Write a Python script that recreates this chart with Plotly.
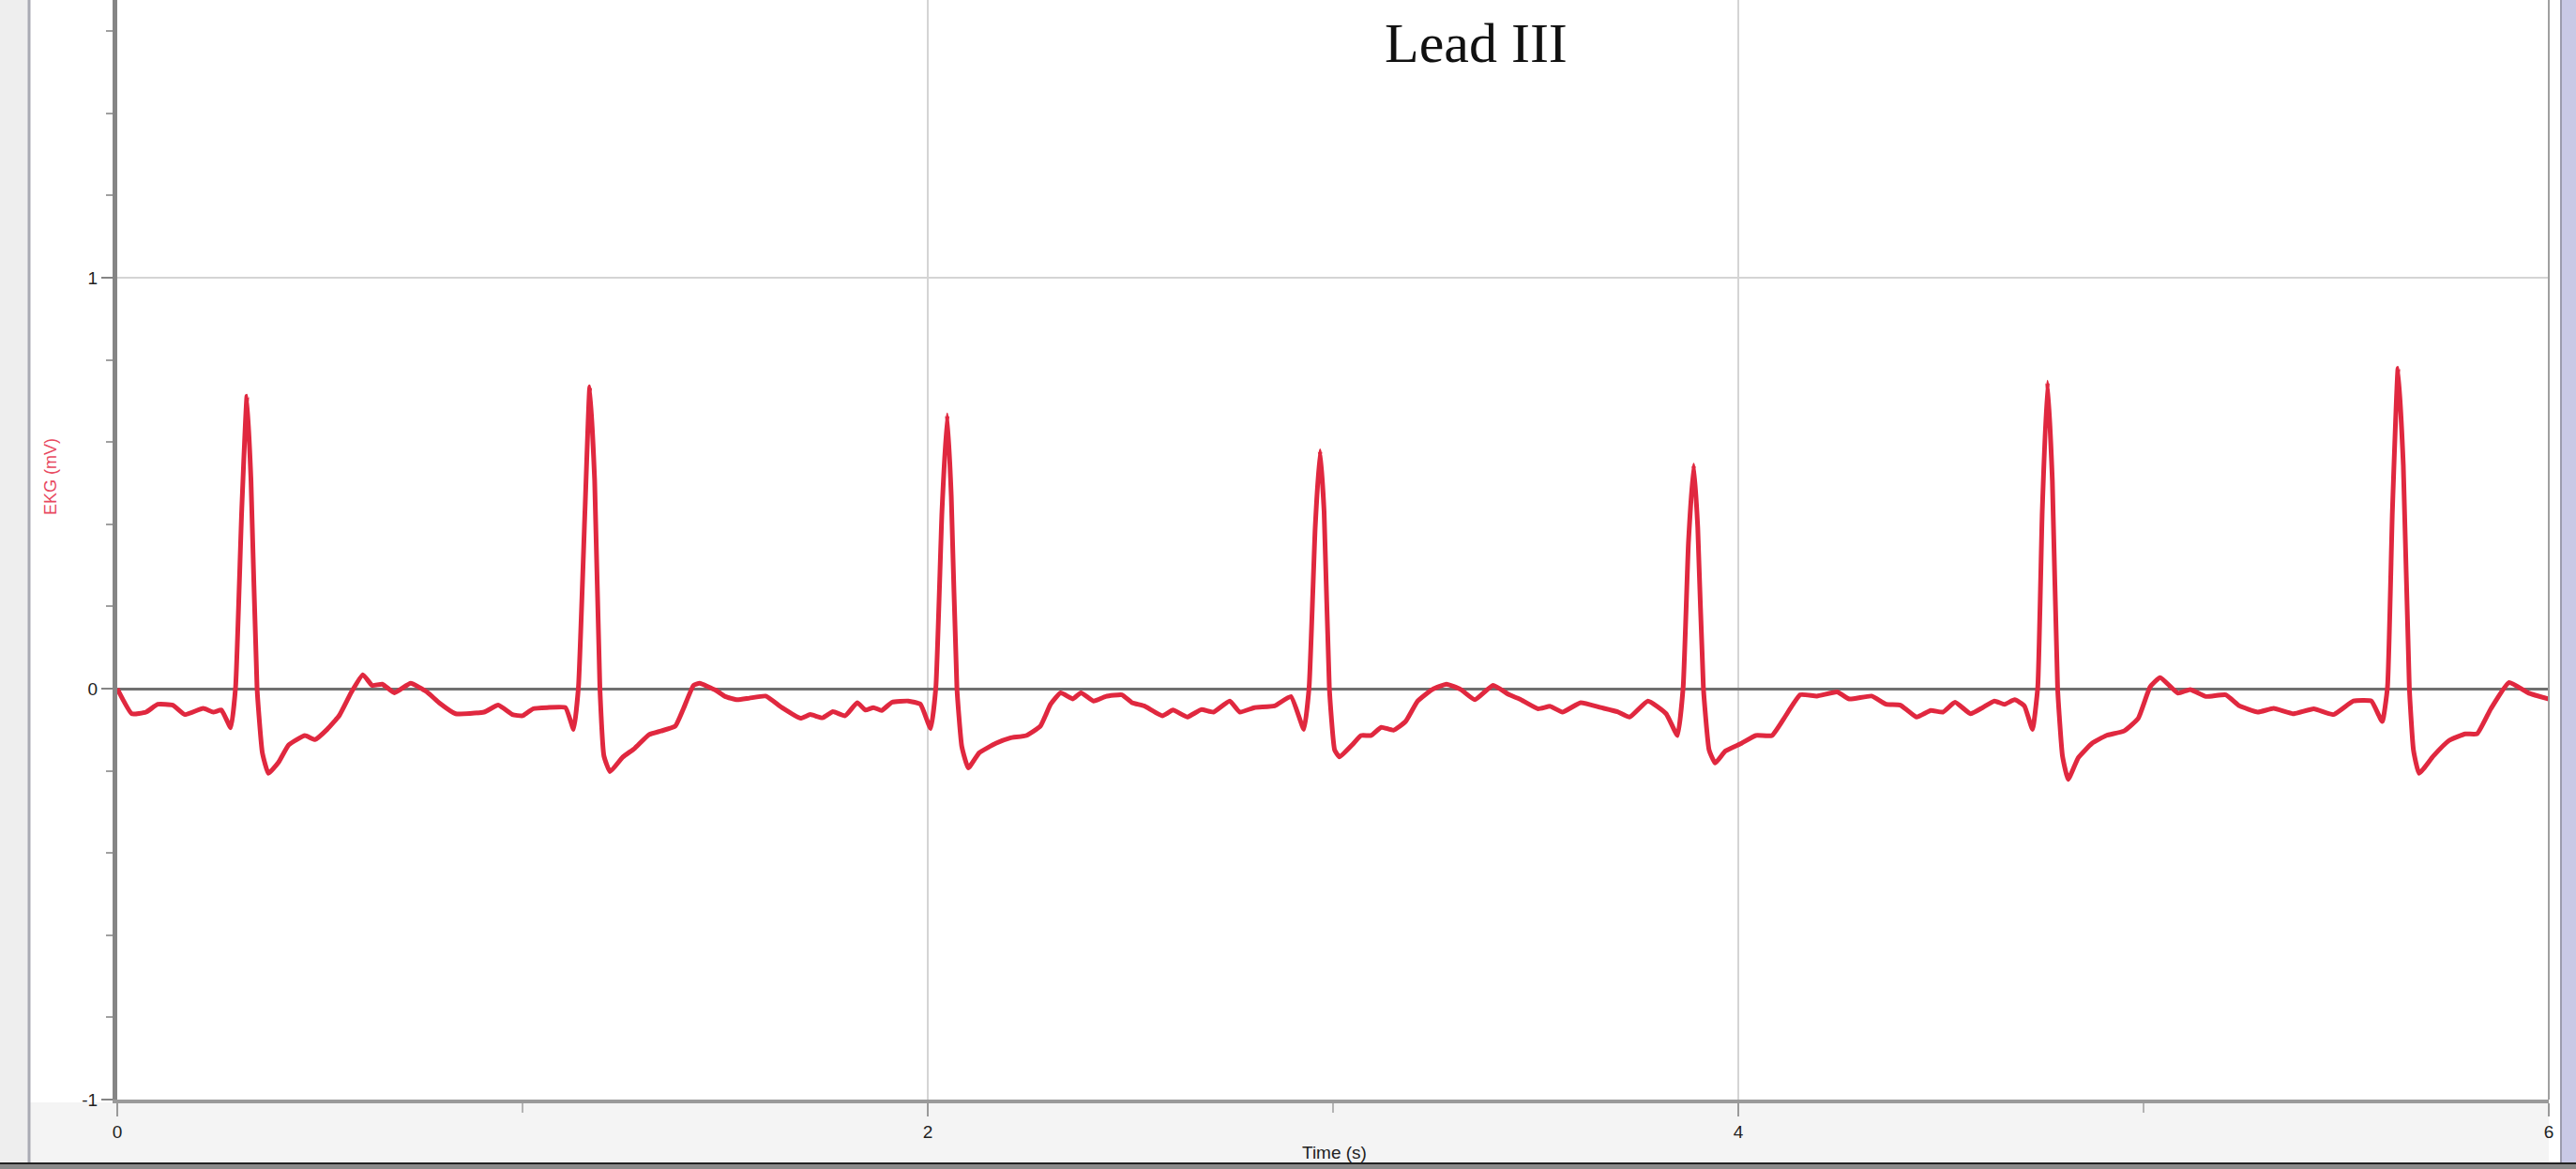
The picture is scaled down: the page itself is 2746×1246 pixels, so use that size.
import plotly.graph_objects as go

# Lead III EKG trace
time_s = [
    0.000, 0.036, 0.071, 0.100, 0.137, 0.167, 0.212, 0.237, 0.257, 0.280,
    0.292, 0.307, 0.320, 0.330, 0.345, 0.358, 0.373, 0.398, 0.423, 0.463,
    0.488, 0.518, 0.548, 0.578, 0.606, 0.629, 0.654, 0.684, 0.724, 0.764,
    0.794, 0.835, 0.905, 0.940, 0.975, 1.000, 1.026, 1.061, 1.106, 1.126,
    1.138, 1.154, 1.166, 1.178, 1.191, 1.201, 1.216, 1.247, 1.277, 1.312,
    1.342, 1.377, 1.397, 1.422, 1.437, 1.477, 1.500, 1.530, 1.560, 1.600,
    1.640, 1.686, 1.710, 1.740, 1.766, 1.796, 1.826, 1.846, 1.866, 1.886,
    1.912, 1.952, 1.982, 2.007, 2.020, 2.035, 2.048, 2.058, 2.072, 2.084,
    2.100, 2.127, 2.168, 2.203, 2.243, 2.278, 2.303, 2.328, 2.358, 2.378,
    2.409, 2.439, 2.479, 2.504, 2.534, 2.579, 2.605, 2.640, 2.675, 2.705,
    2.745, 2.770, 2.806, 2.856, 2.896, 2.928, 2.941, 2.956, 2.968, 2.978,
    2.991, 3.004, 3.016, 3.047, 3.069, 3.094, 3.119, 3.149, 3.179, 3.209,
    3.245, 3.280, 3.315, 3.350, 3.395, 3.435, 3.460, 3.506, 3.536, 3.566,
    3.611, 3.661, 3.702, 3.732, 3.777, 3.822, 3.850, 3.864, 3.877, 3.890,
    3.900, 3.914, 3.928, 3.943, 3.968, 4.008, 4.043, 4.083, 4.113, 4.153,
    4.194, 4.244, 4.274, 4.329, 4.365, 4.400, 4.440, 4.475, 4.505, 4.535,
    4.573, 4.603, 4.632, 4.657, 4.682, 4.706, 4.726, 4.739, 4.750, 4.763,
    4.775, 4.788, 4.800, 4.814, 4.839, 4.873, 4.908, 4.952, 4.987, 5.016,
    5.041, 5.085, 5.115, 5.154, 5.203, 5.237, 5.282, 5.321, 5.370, 5.420,
    5.469, 5.518, 5.562, 5.589, 5.602, 5.614, 5.628, 5.641, 5.656, 5.666,
    5.680, 5.715, 5.754, 5.794, 5.823, 5.857, 5.902, 5.951, 6.000,
]
ekg_mv = [
    0.000, -0.061, -0.057, -0.038, -0.040, -0.063, -0.048, -0.057, -0.052, -0.095,
    0.004, 0.430, 0.712, 0.506, 0.000, -0.156, -0.206, -0.179, -0.137, -0.114,
    -0.124, -0.099, -0.065, -0.008, 0.034, 0.008, 0.011, -0.010, 0.013, -0.008,
    -0.034, -0.061, -0.057, -0.040, -0.063, -0.066, -0.049, -0.046, -0.046, -0.099,
    0.004, 0.430, 0.735, 0.506, 0.000, -0.164, -0.202, -0.167, -0.145, -0.112,
    -0.103, -0.091, -0.049, 0.008, 0.013, -0.004, -0.019, -0.027, -0.023, -0.018,
    -0.046, -0.072, -0.063, -0.071, -0.056, -0.066, -0.034, -0.052, -0.046, -0.053,
    -0.033, -0.030, -0.038, -0.097, 0.004, 0.430, 0.666, 0.468, 0.000, -0.141,
    -0.193, -0.156, -0.133, -0.120, -0.114, -0.091, -0.038, -0.010, -0.025, -0.010,
    -0.030, -0.019, -0.015, -0.034, -0.042, -0.066, -0.052, -0.069, -0.051, -0.057,
    -0.030, -0.057, -0.046, -0.042, -0.019, -0.099, 0.004, 0.392, 0.579, 0.430,
    0.000, -0.149, -0.166, -0.137, -0.114, -0.114, -0.094, -0.101, -0.080, -0.030,
    -0.002, 0.011, -0.002, -0.027, 0.008, -0.015, -0.025, -0.049, -0.043, -0.057,
    -0.034, -0.046, -0.056, -0.069, -0.030, -0.061, -0.114, 0.004, 0.354, 0.544,
    0.392, 0.000, -0.149, -0.181, -0.152, -0.133, -0.114, -0.114, -0.072, -0.015,
    -0.018, -0.008, -0.025, -0.018, -0.038, -0.040, -0.069, -0.053, -0.057, -0.033,
    -0.061, -0.046, -0.030, -0.038, -0.027, -0.042, -0.099, 0.004, 0.430, 0.746,
    0.506, 0.000, -0.164, -0.221, -0.168, -0.133, -0.114, -0.103, -0.072, 0.004,
    0.027, -0.011, -0.002, -0.019, -0.015, -0.042, -0.057, -0.048, -0.061, -0.049,
    -0.063, -0.030, -0.030, -0.080, 0.004, 0.430, 0.780, 0.544, 0.000, -0.149,
    -0.206, -0.164, -0.126, -0.110, -0.110, -0.049, 0.015, -0.011, -0.025,
]

x_tick_vals = [0, 2, 4, 6]
x_tick_text = ["0", "2", "4", "6"]
y_tick_vals = [-1, 0, 1]
y_tick_text = ["-1", "0", "1"]
y_range = [-1, 1.676]
x_range = [0, 6]

WIDTH, HEIGHT = 2746, 1246
# plot area in screen pixels
PL, PR, PT, PB = 125, 2717, 0, 1172


def px_x(px):
    return (px - PL) / (PR - PL)


def px_y(py):
    return (PB - py) / (PB - PT)


def px_rect(x0, y0, x1, y1, color):
    return dict(type="rect", xref="paper", yref="paper", layer="below",
                x0=px_x(x0), x1=px_x(x1), y0=px_y(y1), y1=px_y(y0),
                fillcolor=color, line=dict(width=0))


def px_line(x0, y0, x1, y1, color, width):
    return dict(type="line", xref="paper", yref="paper",
                x0=px_x(x0), x1=px_x(x1), y0=px_y(y0), y1=px_y(y1),
                line=dict(color=color, width=width))


fig = go.Figure()
fig.add_trace(go.Scatter(
    x=time_s, y=ekg_mv, mode="lines",
    line=dict(color="#e0283f", width=5, shape="spline", smoothing=0.4),
    hoverinfo="skip",
))

axis_font = dict(family="Liberation Sans, Arial, sans-serif", size=19, color="#222222")

fig.update_xaxes(
    range=x_range, tickvals=x_tick_vals, ticktext=x_tick_text,
    showgrid=True, gridcolor="#d4d4d4", gridwidth=2,
    showline=True, linecolor="#9a9a9a", linewidth=4,
    zeroline=False,
    ticks="outside", ticklen=14, tickwidth=2, tickcolor="#9a9a9a",
    minor=dict(dtick=1, tick0=0, ticks="outside", ticklen=10, tickcolor="#b4b4b4", showgrid=False),
    tickfont=axis_font,
)
fig.update_yaxes(
    range=y_range, tickvals=y_tick_vals, ticktext=y_tick_text,
    showgrid=True, gridcolor="#d4d4d4", gridwidth=2,
    showline=True, linecolor="#858585", linewidth=5,
    zeroline=True, zerolinecolor="#707070", zerolinewidth=3,
    ticks="outside", ticklen=12, tickwidth=2, tickcolor="#858585",
    minor=dict(dtick=0.2, tick0=0, ticks="outside", ticklen=7, tickcolor="#a0a0a0", showgrid=False),
    tickfont=axis_font,
)

shapes = [
    # window chrome around the graph
    px_rect(0, 0, 31, HEIGHT, "#eeeeee"),
    px_rect(32, PB + 3, PR, 1239, "#f4f4f4"),
    px_rect(2731, 0, WIDTH, HEIGHT, "#c9c9e6"),
    px_rect(0, 1241, WIDTH, HEIGHT, "#8a8a8a"),
    px_line(31, 0, 31, 1240, "#a9aab3", 3),
    px_line(2730, 0, 2730, 1240, "#9c9cae", 2),
    px_line(0, 1240, WIDTH, 1240, "#222222", 2),
    # right edge of plot at t = 6
    px_line(PR, 0, PR, PB, "#a0a0a0", 2),
]

annotations = [
    dict(text="Lead III", xref="paper", yref="paper", x=px_x(1573), y=px_y(46),
         showarrow=False, xanchor="center", yanchor="middle",
         font=dict(family="Liberation Serif, Times New Roman, serif", size=60, color="#111111")),
    dict(text="Time (s)", xref="paper", yref="paper", x=px_x(1422), y=px_y(1228),
         showarrow=False, xanchor="center", yanchor="middle",
         font=dict(family="Liberation Sans, Arial, sans-serif", size=19, color="#222222")),
    dict(text="EKG (mV)", xref="paper", yref="paper", x=px_x(54), y=px_y(508),
         showarrow=False, xanchor="center", yanchor="middle", textangle=-90,
         font=dict(family="Liberation Sans, Arial, sans-serif", size=18, color="#e8495f")),
]

fig.update_layout(
    width=WIDTH, height=HEIGHT,
    margin=dict(l=PL, r=WIDTH - PR, t=PT, b=HEIGHT - PB, pad=0),
    paper_bgcolor="#ffffff", plot_bgcolor="#ffffff",
    showlegend=False, hovermode=False,
    shapes=shapes, annotations=annotations,
)

fig.write_html(
    "out.html",
    config={"displayModeBar": False},
    post_script="document.body.style.margin='0';document.body.style.overflow='hidden';",
)
